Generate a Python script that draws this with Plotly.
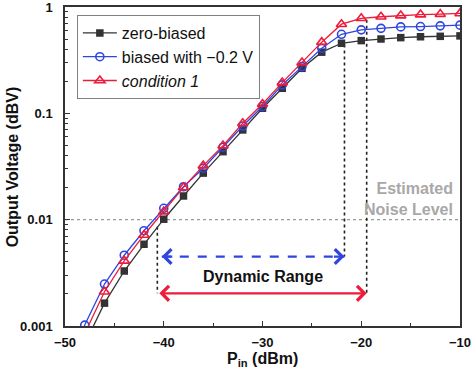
import plotly.graph_objects as go
import math

# ---------------- data ----------------
p_in = [-50, -48, -46, -44, -42, -40, -38, -36, -34, -32, -30,
        -28, -26, -24, -22, -20, -18, -16, -14, -12, -10]

zero_biased = [0.0003, 0.00068, 0.00164, 0.00329, 0.00587, 0.0101, 0.0167, 0.0274,
               0.0436, 0.0698, 0.1117, 0.172, 0.265, 0.376, 0.456, 0.483, 0.50,
               0.515, 0.525, 0.53, 0.535]
biased_02 = [0.0003, 0.00102, 0.00248, 0.00463, 0.00787, 0.0128, 0.0204, 0.0305,
             0.048, 0.076, 0.116, 0.185, 0.275, 0.409, 0.554, 0.61, 0.63,
             0.65, 0.655, 0.665, 0.675]
condition_1 = [0.0002, 0.00085, 0.0021, 0.0041, 0.00718, 0.0119, 0.0201, 0.0322,
               0.0497, 0.0807, 0.1225, 0.1946, 0.30, 0.467, 0.689, 0.783, 0.81,
               0.83, 0.848, 0.857, 0.87]

series_names = ["zero-biased", "biased with \u22120.2 V", "<i>condition 1</i>"]

noise_level = 0.01
blue_range = [-40.2, -21.7]
blue_arrow_y = 0.0045
red_range = [-40.6, -19.45]
red_arrow_y = 0.00203
vline_x = [-40.65, -21.7, -19.45]
vline_top = [0.0086, 0.445, 0.76]
vline_bottom = [0.00203, 0.0045, 0.00203]

x_ticks = [-50, -40, -30, -20, -10]
x_minor = [-45, -35, -25, -15]
y_ticks = [0.001, 0.01, 0.1, 1]
y_ticklabels = ["0.001", "0.01", "0.1", "1"]
y_minor = [m * 10 ** e for e in (-3, -2, -1) for m in range(2, 10)]

FONT = "Liberation Sans, Arial, sans-serif"
BLACK = "#333333"
BLUE = "#2f45e0"
RED = "#ec1c3a"

fig = go.Figure()

# noise level line
fig.add_trace(go.Scatter(x=[x_ticks[0], x_ticks[-1]], y=[noise_level, noise_level],
                         mode="lines", line=dict(color="#9a9a9a", width=1.2, dash="dot"),
                         showlegend=False, hoverinfo="skip"))
# vertical dotted lines
for xv, yt, yb in zip(vline_x, vline_top, vline_bottom):
    fig.add_trace(go.Scatter(x=[xv, xv], y=[yt, yb], mode="lines",
                             line=dict(color="#222222", width=1.6, dash="dot"),
                             showlegend=False, hoverinfo="skip"))
# blue dashed shaft
fig.add_trace(go.Scatter(x=blue_range, y=[blue_arrow_y, blue_arrow_y], mode="lines",
                         line=dict(color=BLUE, width=2.2, dash="dash"),
                         showlegend=False, hoverinfo="skip"))

# data series
fig.add_trace(go.Scatter(x=p_in, y=zero_biased, name=series_names[0], mode="lines+markers",
                         line=dict(color=BLACK, width=1.3),
                         marker=dict(symbol="square", size=7.5, color=BLACK)))
fig.add_trace(go.Scatter(x=p_in, y=biased_02, name=series_names[1], mode="lines+markers",
                         line=dict(color=BLUE, width=1.3),
                         marker=dict(symbol="circle-open", size=8, color=BLUE,
                                     line=dict(width=1.6, color=BLUE))))
fig.add_trace(go.Scatter(x=p_in, y=condition_1, name=series_names[2], mode="lines+markers",
                         line=dict(color=RED, width=1.3),
                         marker=dict(symbol="triangle-up-open", size=9, color=RED,
                                     line=dict(width=1.6, color=RED))))

# red double arrow
fig.add_annotation(x=red_range[1], y=math.log10(red_arrow_y), ax=red_range[0],
                   ay=math.log10(red_arrow_y), xref="x", yref="y", axref="x", ayref="y",
                   showarrow=True, arrowside="end+start", arrowhead=4, startarrowhead=4,
                   arrowsize=1.3, startarrowsize=1.3, arrowwidth=2.2, arrowcolor=RED, text="")
# blue arrow heads
fig.add_annotation(x=blue_range[1], y=math.log10(blue_arrow_y), ax=-12, ay=0,
                   xref="x", yref="y", showarrow=True, arrowhead=4, arrowsize=1.3,
                   arrowwidth=2.2, arrowcolor=BLUE, text="")
fig.add_annotation(x=blue_range[0], y=math.log10(blue_arrow_y), ax=12, ay=0,
                   xref="x", yref="y", showarrow=True, arrowhead=4, arrowsize=1.3,
                   arrowwidth=2.2, arrowcolor=BLUE, text="")

fig.add_annotation(x=-30, y=-2.536, xref="x", yref="y", showarrow=False,
                   text="Dynamic Range",
                   font=dict(family=FONT, size=16, color="#111111", weight="bold"))
fig.add_annotation(x=-10.5, y=-1.81, xref="x", yref="y", showarrow=False,
                   xanchor="right", align="right",
                   text="Estimated<br>Noise Level",
                   font=dict(family=FONT, size=16, color="#a8a8a8", weight="bold"))

# axis titles
fig.add_annotation(x=0.5, y=-0.105, xref="paper", yref="paper", showarrow=False,
                   xanchor="center", yanchor="middle",
                   text="P<sub>in</sub> (dBm)",
                   font=dict(family=FONT, size=16, color="#111111", weight="bold"))
fig.add_annotation(x=-0.132, y=0.5, xref="paper", yref="paper", showarrow=False,
                   xanchor="center", yanchor="middle", textangle=-90,
                   text="Output Voltage (dBV)",
                   font=dict(family=FONT, size=16, color="#111111", weight="bold"))

axis_common = dict(showline=True, linecolor=BLACK, linewidth=1.5, mirror=True,
                   ticks="inside", tickcolor=BLACK, tickwidth=1.3, ticklen=5,
                   showgrid=False, zeroline=False, automargin=False,
                   ticklabeloverflow="allow",
                   tickfont=dict(family=FONT, size=13, color="#111111", weight="bold"))

fig.update_xaxes(range=[-50, -10], tickmode="array", tickvals=x_ticks,
                 minor=dict(tickmode="array", tickvals=x_minor, ticks="inside",
                            ticklen=3, tickcolor=BLACK, tickwidth=1.2, showgrid=False),
                 ticklabelstandoff=4,
                 **axis_common)
fig.update_yaxes(type="log", range=[-3, 0], tickmode="array", tickvals=y_ticks,
                 ticktext=y_ticklabels,
                 minor=dict(tickmode="array", tickvals=y_minor, ticks="inside",
                            ticklen=3, tickcolor=BLACK, tickwidth=1.2, showgrid=False),
                 ticklabelstandoff=8,
                 **axis_common)

fig.update_layout(width=474, height=375, autosize=False,
                  margin=dict(l=65, r=14, t=7, b=49),
                  paper_bgcolor="white", plot_bgcolor="white",
                  font=dict(family=FONT, color="#111111"),
                  legend=dict(x=0.03, y=0.975, xanchor="left", yanchor="top",
                              bgcolor="white", bordercolor="#808080", borderwidth=1,
                              font=dict(family=FONT, size=16, color="#111111"),
                              itemwidth=34, tracegroupgap=0))

fig.write_html("out.html", config={"displayModeBar": False},
               post_script="document.body.style.margin='0';document.body.style.padding='0';")
